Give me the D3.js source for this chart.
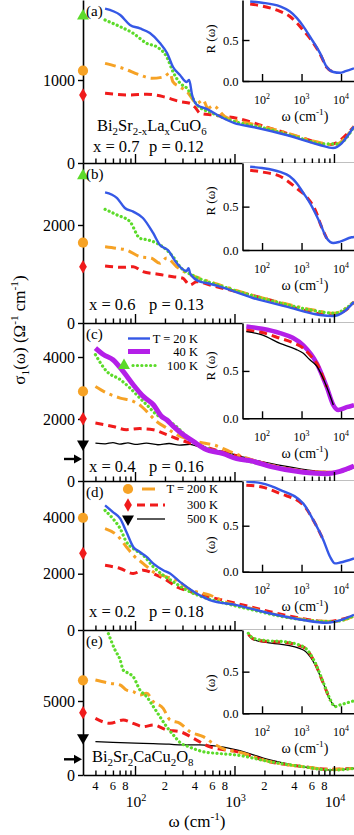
<!DOCTYPE html>
<html lang="en">
<head>
<meta charset="UTF-8" />
<script src="https://d3js.org/d3.v7.min.js"></script>
<title>sigma1</title>
<style>
  body { margin: 0; background: #fff; }
  svg { display: block; }
  svg text { font-family: "Liberation Serif", serif; }
  .curve { fill: none; stroke-linejoin: round; }
</style>
</head>
<body>
<script type="text/javascript">
// frequency (cm^-1), sigma1 (ohm^-1 cm^-1)
var a_20K  = [[50,1860],[71,1783],[89,1663],[112,1622],[141,1566],[178,1446],[210,1325],[241,1157],[283,1060],[330,975],[350,1000],[375,820],[420,700],[530,650],[714,560],[1000,480],[1530,434],[3330,337],[7200,217],[9800,180],[12000,240],[13500,317],[15900,440]];
var a_100K = [[50,1723],[71,1642],[95,1566],[131,1442],[165,1400],[208,1280],[241,1100],[283,963],[333,900],[420,700],[600,600],[1000,500],[2000,420],[4000,320],[8000,230],[11000,230],[15900,440]];
var a_200K = [[50,1200],[76,1140],[112,1060],[147,1020],[192,1036],[225,1084],[240,980],[283,917],[333,860],[420,720],[483,760],[540,660],[610,690],[800,560],[1500,470],[3000,380],[6000,270],[10000,220],[15900,440]];
var a_300K = [[50,840],[89,820],[131,828],[192,800],[283,740],[357,720],[400,675],[450,600],[610,578],[1050,540],[2270,420],[4900,300],[9000,220],[15900,440]];
var a_dc   = [["100K",1771],["200K",1112],["300K",819]];
var aR_20K  = [[50,0.97],[100,0.955],[285,0.91],[500,0.85],[755,0.77],[1100,0.67],[1640,0.54],[2940,0.34],[4350,0.17],[6380,0.11],[9440,0.10],[13000,0.12],[21300,0.155]];
var aR_300K = [[50,0.94],[100,0.915],[285,0.85],[500,0.79],[755,0.71],[1100,0.62],[1640,0.52],[2940,0.33],[4350,0.165],[6380,0.11]];

var b_20K  = [[50,2667],[66,2550],[79,2347],[96,2272],[120,2143],[152,1837],[178,1592],[214,1490],[262,1224],[330,1060],[345,1120],[360,1000],[450,843],[525,816],[714,741],[1530,510],[3330,333],[7200,163],[9800,143],[12600,231],[15900,430]];
var b_100K = [[50,2320],[66,2204],[89,2068],[112,1728],[135,1694],[165,1630],[208,1490],[241,1353],[283,1150],[400,950],[700,770],[1500,560],[3000,400],[6000,260],[10000,200],[15900,430]];
var b_200K = [[50,1557],[65,1524],[82,1490],[112,1353],[147,1320],[178,1218],[208,1326],[262,1149],[330,1020],[480,890],[700,780],[1500,570],[3000,410],[6000,270],[10000,200],[15900,430]];
var b_300K = [[50,1163],[76,1136],[96,1150],[120,1047],[165,1000],[241,945],[300,918],[357,775],[416,843],[600,760],[1050,640],[2270,470],[4900,265],[9000,170],[12600,240],[15900,430]];
var b_dc   = [["100K",3006],["200K",1639],["300K",1149]];
var bR_20K  = [[50,0.96],[100,0.945],[285,0.90],[500,0.85],[755,0.77],[1100,0.66],[1640,0.54],[2940,0.31],[4350,0.135],[6380,0.08],[9440,0.096],[18600,0.147],[21300,0.15]];
var bR_300K = [[50,0.92],[100,0.90],[285,0.85],[755,0.71],[1350,0.61],[2430,0.42],[2940,0.31],[4350,0.135]];

var c_40K  = [[40,4290],[48,4080],[60,3910],[76,3535],[96,3105],[121,2730],[153,2460],[185,2085],[208,1975],[243,1760],[306,1490],[385,1280],[500,1040],[770,880],[1050,720],[1500,640],[2270,470],[4900,280],[8400,235],[11500,310],[15900,480]];
var c_100K = [[40,4075],[52,3535],[71,3270],[89,3000],[112,2675],[131,2460],[165,2140],[208,1975],[260,1760],[330,1440],[420,1200],[600,1000],[1000,760],[2000,520],[5000,300],[9000,260],[15900,460]];
var c_200K = [[40,3050],[52,2840],[71,2675],[96,2570],[116,2410],[131,2245],[165,1920],[208,1710],[262,1495],[357,1330],[485,1225],[610,1170],[900,950],[1500,680],[3000,430],[6000,300],[10000,280],[15900,460]];
var c_300K = [[40,1870],[60,1760],[82,1655],[112,1690],[153,1655],[208,1495],[283,1330],[357,1225],[500,1100],[800,920],[1500,680],[3000,430],[6000,300],[10000,280],[15900,460]];
var c_500K = [[40,1225],[50,1200],[60,1240],[70,1190],[85,1230],[100,1180],[130,1220],[170,1170],[220,1210],[280,1160],[357,1180],[450,1090],[610,1010],[900,900],[1130,800],[1540,690],[3330,470],[7200,310],[10000,300],[13000,350],[15900,460]];
var c_dc   = [["200K",2890],["300K",2010],["500K",1194]];
var c_arrow = 710;
var cR_40K  = [[40,0.97],[100,0.945],[285,0.90],[600,0.85],[1110,0.77],[2430,0.58],[4350,0.33],[6380,0.14],[8520,0.088],[13900,0.117],[21300,0.14]];
var cR_300K = [[40,0.93],[100,0.905],[285,0.845],[600,0.80],[1110,0.74],[1700,0.66],[2430,0.58],[4350,0.33]];
var cR_500K = [[40,0.915],[100,0.88],[285,0.79],[700,0.73],[1110,0.686],[1600,0.62],[2430,0.55],[4350,0.33],[6380,0.14]];

var d_20K  = [[50,4425],[60,4189],[71,3953],[82,3480],[96,2950],[112,2772],[131,2595],[153,2360],[192,2124],[225,2006],[283,1710],[416,1298],[566,1062],[1050,885],[2270,590],[4900,354],[8400,260],[12300,378],[15900,540]];
var d_100K = [[50,4248],[60,3953],[71,3600],[82,3126],[96,2892],[121,2655],[153,2242],[192,1947],[243,1710],[330,1416],[500,1150],[800,950],[1500,720],[3000,480],[6000,330],[10000,300],[15900,500]];
var d_200K = [[50,3600],[66,3363],[82,2950],[96,2655],[121,2360],[153,2064],[208,1887],[262,1770],[350,1450],[566,1239],[800,1000],[1500,760],[3000,500],[6000,340],[10000,300],[15900,500]];
var d_300K = [[50,2300],[71,2184],[96,2006],[121,2124],[165,1947],[208,1770],[262,1533],[370,1350],[600,1150],[1050,945],[2270,650],[4900,400],[8400,300],[12000,380],[15900,510]];
var d_dc   = [["200K",3987],["300K",2723]];
var dR_20K  = [[40,0.98],[100,0.96],[285,0.89],[1110,0.74],[1990,0.56],[3560,0.345],[5270,0.163],[7040,0.09],[9500,0.10],[21300,0.145]];
var dR_300K = [[40,0.94],[100,0.92],[285,0.85],[1110,0.725],[1990,0.56],[3560,0.345]];

var e_100K = [[54,9550],[63,8446],[71,7770],[76,7095],[86,6870],[96,6640],[112,5743],[131,5290],[153,4615],[178,3940],[208,3263],[243,2703],[283,2200],[350,1900],[483,1577],[700,1450],[1050,1351],[2270,900],[4900,563],[9100,338],[12000,360],[15900,450]];
var e_200K = [[40,6420],[56,6196],[71,6081],[82,5743],[96,5630],[112,5405],[131,5518],[153,4950],[192,4500],[225,3716],[283,3490],[357,2926],[485,2590],[610,2140],[830,1690],[1050,1580],[2270,900],[4900,563],[9100,380],[15900,450]];
var e_300K = [[40,3830],[56,3490],[76,3716],[96,3490],[121,3263],[153,3378],[208,3040],[283,2926],[416,2360],[566,1900],[1050,1577],[2270,900],[4900,563],[9100,380],[15900,450]];
var e_500K = [[40,2250],[60,2200],[100,2150],[150,2120],[220,2080],[300,2030],[450,2030],[714,1914],[1050,1690],[2270,1014],[4900,563],[9100,338],[15900,450]];
var e_dc   = [["200K",6400],["300K",4212],["500K",2522]];
var e_arrow = 1061;
var eR_100K = [[45,0.96],[60,0.90],[150,0.87],[285,0.865],[1110,0.80],[1990,0.65],[3560,0.37],[5270,0.17],[7040,0.08],[9500,0.10],[21300,0.15]];
var eR_300K = [[45,0.95],[60,0.895],[150,0.86],[285,0.855],[1110,0.795],[1990,0.645],[3560,0.36],[5270,0.16]];
var eR_500K = [[45,0.94],[60,0.885],[150,0.845],[285,0.83],[1110,0.76],[1990,0.62],[3560,0.36],[5270,0.16],[7040,0.08]];

var minorTicks = [40,50,60,70,80,90,200,300,400,500,600,700,800,900,2000,3000,4000,5000,6000,7000,8000,9000];
var majorTicks = [100,1000,10000];
var minorLabels = [[40,"4"],[60,"6"],[80,"8"],[200,"2"],[400,"4"],[600,"6"],[800,"8"],[2000,"2"],[4000,"4"],[6000,"6"],[8000,"8"]];

var styles = {
  "20K":  {color:"#3558e6", w:2.4},
  "40K":  {color:"#b41fe8", w:5},
  "100K": {color:"#5cdb2a", w:3.2, dash:"0.1 4.3", cap:"round"},
  "200K": {color:"#f6a225", w:3, dash:"11 5 3 5"},
  "300K": {color:"#f01b1b", w:3, dash:"8 5"},
  "500K": {color:"#000000", w:1.3}
};
var markerOf = {"100K":"up", "200K":"circle", "300K":"diamond", "500K":"down"};

var panels = [
  {lab:"(a)", top:0, bottom:163, ymax:1964, ticks:[0,1000],
   curves:[["300K",a_300K],["200K",a_200K],["100K",a_100K],["20K",a_20K]], dc:a_dc,
   inset:{bottom:81, rmax:0.988, ylab:"R (\u03c9)", ylabY:39, curves:[["300K",aR_300K],["20K",aR_20K]]}},
  {lab:"(b)", top:163, bottom:323, ymax:3265, ticks:[0,2000],
   curves:[["300K",b_300K],["200K",b_200K],["100K",b_100K],["20K",b_20K]], dc:b_dc,
   inset:{bottom:250, rmax:1.003, ylab:"R (\u03c9)", ylabY:201, curves:[["300K",bR_300K],["20K",bR_20K]]}},
  {lab:"(c)", top:323, bottom:481, ymax:5097, ticks:[0,2000,4000],
   curves:[["500K",c_500K],["300K",c_300K],["200K",c_200K],["100K",c_100K],["40K",c_40K]], dc:c_dc, arrow:c_arrow,
   inset:{bottom:418.3, rmax:1.006, ylab:"R (\u03c9)", ylabY:366, curves:[["40K",cR_40K],["300K",cR_300K],["500K",cR_500K]]}},
  {lab:"(d)", top:481, bottom:630, ymax:5293, ticks:[0,2000,4000],
   curves:[["300K",d_300K],["200K",d_200K],["100K",d_100K],["20K",d_20K]], dc:d_dc,
   inset:{bottom:571.7, rmax:0.986, ylab:"(\u03c9)", ylabY:545, curves:[["300K",dR_300K],["20K",dR_20K]]}},
  {lab:"(e)", top:630, bottom:775, ymax:9797, ticks:[0,5000],
   curves:[["500K",e_500K],["300K",e_300K],["200K",e_200K],["100K",e_100K]], dc:e_dc, arrow:e_arrow,
   inset:{bottom:713.3, rmax:1.0, ylab:"(\u03c9)", ylabY:683, curves:[["500K",eR_500K],["300K",eR_300K],["100K",eR_100K]]}}
];

var width = 354, height = 835;
var X0 = 83, X1 = 354, IX0 = 242.5;
var x = d3.scaleLog().domain([30, 15900]).range([X0, X1]);
var xi = d3.scaleLog().domain([32, 21300]).range([IX0, X1]);

var svg = d3.select("body").append("svg").attr("width", width).attr("height", height);
var defs = svg.append("defs");

function styleCurve(sel, key, k) {
  var s = styles[key];
  sel.attr("class", "curve").attr("stroke", s.color).attr("stroke-width", s.w * (k || 1))
     .attr("stroke-dasharray", s.dash || null).attr("stroke-linecap", s.cap || "butt");
}
function drawMarker(g, key, cx, cy) {
  var m = markerOf[key], c = styles[key].color, sym;
  if (m == "up" || m == "down") sym = d3.symbol().type(d3.symbolTriangle).size(62);
  else if (m == "circle") sym = d3.symbol().type(d3.symbolCircle).size(82);
  else sym = d3.symbol().type(d3.symbolDiamond).size(52);
  g.append("path").attr("d", sym()).attr("fill", c)
   .attr("transform", "translate(" + cx + "," + cy + ")" + (m == "down" ? " rotate(180)" : ""));
}
// text with sub/superscripts: parts = [[txt, "sub"|"sup"|""], ...]
function rich(g, parts, px, py, size, anchor) {
  var t = g.append("text").attr("x", px).attr("y", py).attr("font-size", size)
           .attr("text-anchor", anchor || "start");
  var shift = 0;
  parts.forEach(function (p) {
    var want = p[1] == "sub" ? size * 0.25 : p[1] == "sup" ? -size * 0.4 : 0;
    t.append("tspan").attr("dy", want - shift).attr("font-size", p[1] ? size * 0.66 : size).text(p[0]);
    shift = want;
  });
  return t;
}
function tenPow(g, e, px, py, size) {
  return rich(g, [["10",""],[e,"sup"]], px, py, size, "middle");
}

panels.forEach(function (P, i) {
  var g = svg.append("g");
  var y = d3.scaleLinear().domain([0, P.ymax]).range([P.bottom, P.top]);
  var line = d3.line().x(function (d) { return x(d[0]); }).y(function (d) { return y(d[1]); })
               .curve(d3.curveMonotoneX);

  defs.append("clipPath").attr("id", "clip" + i).append("rect")
      .attr("x", X0).attr("y", P.top).attr("width", X1 - X0).attr("height", P.bottom - P.top);

  var cg = g.append("g").attr("clip-path", "url(#clip" + i + ")");
  P.curves.forEach(function (c) {
    cg.append("path").datum(c[1]).attr("d", line).call(styleCurve, c[0]);
  });

  // inset
  var I = P.inset;
  var yi = d3.scaleLinear().domain([0, I.rmax]).range([I.bottom, P.top]);
  var li = d3.line().x(function (d) { return xi(d[0]); }).y(function (d) { return yi(d[1]); })
             .curve(d3.curveMonotoneX);
  g.append("rect").attr("x", IX0).attr("y", P.top).attr("width", X1 - IX0)
   .attr("height", I.bottom - P.top).attr("fill", "#fff");
  defs.append("clipPath").attr("id", "iclip" + i).append("rect")
      .attr("x", IX0).attr("y", P.top).attr("width", X1 - IX0).attr("height", I.bottom - P.top);
  var ig = g.append("g").attr("clip-path", "url(#iclip" + i + ")");
  I.curves.forEach(function (c) {
    ig.append("path").datum(c[1]).attr("d", li).call(styleCurve, c[0], c[0] == "40K" ? 0.9 : 1);
  });
  var iax = g.append("g").attr("transform", "translate(" + IX0 + ",0)")
    .call(d3.axisLeft(yi).tickValues([0, 0.5]).tickSizeInner(-7).tickSizeOuter(0).tickPadding(4)
          .tickFormat(d3.format(".1f")));
  var ibx = g.append("g").attr("transform", "translate(0," + I.bottom + ")")
    .call(d3.axisBottom(xi).tickValues(majorTicks).tickSizeInner(-7).tickSizeOuter(0).tickFormat(""));
  [iax, ibx].forEach(function (a) {
    a.attr("font-family", null);
    a.select(".domain").attr("stroke-width", 1.6);
    a.selectAll(".tick line").attr("stroke-width", 1.4);
    a.selectAll("text").attr("font-size", 12.5).attr("fill", "#000");
  });
  majorTicks.forEach(function (v, k) { tenPow(g, String(k + 2), xi(v), I.bottom + 22.5, 12); });
  rich(g, [["\u03c9 (cm",""],["-1","sup"],[")",""]], 305, I.bottom + 39.5, 14, "middle");
  g.append("text").attr("transform", "translate(215," + I.ylabY + ") rotate(-90)")
   .attr("text-anchor", "middle").attr("font-size", 13).text(I.ylab);

  // main axes
  var yax = g.append("g").attr("transform", "translate(" + X0 + ",0)")
    .call(d3.axisLeft(y).tickValues(P.ticks).tickSize(5).tickSizeOuter(0).tickPadding(3)
          .tickFormat(d3.format("d")));
  var mnr = g.append("g").attr("transform", "translate(0," + P.bottom + ")")
    .call(d3.axisBottom(x).tickValues(minorTicks).tickSizeInner(-4.5).tickSizeOuter(0).tickFormat(""));
  var mjr = g.append("g").attr("transform", "translate(0," + P.bottom + ")")
    .call(d3.axisBottom(x).tickValues(majorTicks).tickSizeInner(-9).tickSizeOuter(0).tickFormat(""));
  mjr.select(".domain").remove();
  [yax, mnr, mjr].forEach(function (a) {
    a.attr("font-family", null);
    a.select(".domain").attr("stroke-width", 1.6);
    a.selectAll(".tick line").attr("stroke-width", 1.4);
    a.selectAll("text").attr("font-size", 16).attr("fill", "#000");
  });

  // dc values on the axis
  P.dc.forEach(function (d) { drawMarker(g, d[0], X0, y(d[1])); });
  if (P.arrow) {
    var ay = y(P.arrow);
    g.append("line").attr("x1", 64).attr("x2", 76).attr("y1", ay).attr("y2", ay)
     .attr("stroke", "#000").attr("stroke-width", 2.4);
    g.append("path").attr("d", "M" + 82 + "," + ay + "l-8,-4.5v9z").attr("fill", "#000");
  }

  g.append("text").attr("x", 86).attr("y", P.top + 15.5).attr("font-size", 15).text(P.lab);
});

// panel annotations
var ann = svg.append("g");
rich(ann, [["Bi",""],["2","sub"],["Sr",""],["2-x","sub"],["La",""],["x","sub"],["CuO",""],["6","sub"]], 97, 131, 16.5);
var xp = [["x = 0.7","p = 0.12",152],["x = 0.6","p = 0.13",310],["x = 0.4","p = 0.16",471.5],["x = 0.2","p = 0.18",617]];
xp.forEach(function (r, k) {
  ann.append("text").attr("x", k == 0 ? 93 : 89).attr("y", r[2]).attr("font-size", 16.5).text(r[0]);
  ann.append("text").attr("x", 149).attr("y", r[2]).attr("font-size", 16.5).text(r[1]);
});
rich(ann, [["Bi",""],["2","sub"],["Sr",""],["2","sub"],["CaCu",""],["2","sub"],["O",""],["8","sub"]], 92, 762, 16.5);

// legends
var lg = svg.append("g");
var leg1 = [["20K", 338.5, "T = 20 K"], ["40K", 351.5, "40 K"], ["100K", 365.5, "100 K"]];
leg1.forEach(function (r) {
  var x1 = r[0] == "100K" ? 133 : 128, x2 = r[0] == "100K" ? 158 : 150;
  lg.append("line").attr("x1", x1).attr("x2", x2).attr("y1", r[1]).attr("y2", r[1]).call(styleCurve, r[0]);
  lg.append("text").attr("x", 198).attr("y", r[1] + 4.3).attr("text-anchor", "end").attr("font-size", 12.5).text(r[2]);
});
drawMarker(lg, "100K", 124, 365.5);
var leg2 = [["200K", 489, "T = 200 K", 142, 155], ["300K", 505, "300 K", 137, 165], ["500K", 519, "500 K", 137, 165]];
leg2.forEach(function (r) {
  var ln = lg.append("line").attr("x1", r[3]).attr("x2", r[4]).attr("y1", r[1]).attr("y2", r[1]).call(styleCurve, r[0]);
  if (r[0] == "200K") ln.attr("stroke-dasharray", null);
  drawMarker(lg, r[0], 128, r[1]);
  lg.append("text").attr("x", 218).attr("y", r[1] + 4.3).attr("text-anchor", "end").attr("font-size", 12.5).text(r[2]);
});

// bottom tick labels and axis titles
var bt = svg.append("g");
minorLabels.forEach(function (m) {
  bt.append("text").attr("x", x(m[0])).attr("y", 790).attr("text-anchor", "middle").attr("font-size", 12.5).text(m[1]);
});
majorTicks.forEach(function (v, k) { tenPow(bt, String(k + 2), x(v) + 1, 807, 15.5); });
rich(bt, [["\u03c9 (cm",""],["-1","sup"],[")",""]], 197, 827, 17, "middle");
rich(bt, [["\u03c3",""],["1","sub"],["(\u03c9) (\u03a9",""],["-1","sup"],[" cm",""],["-1","sup"],[")",""]], 0, 0, 17, "middle")
  .attr("x", null).attr("y", null).attr("transform", "translate(25,330) rotate(-90)");
</script>
</body>
</html>
